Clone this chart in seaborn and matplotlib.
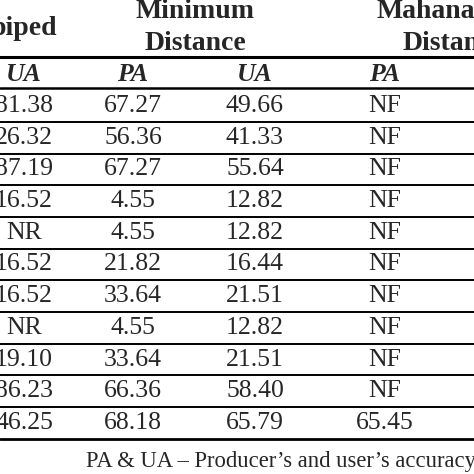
import matplotlib
matplotlib.use("Agg")
import matplotlib.pyplot as plt
import seaborn as sns

sns.set_theme(style="white")
plt.rcParams['font.family'] = ['Liberation Serif', 'DejaVu Serif']

col_pp_ua = ["81.38", "26.32", "87.19", "16.52", "NR", "16.52", "16.52", "NR", "19.10", "86.23", "46.25"]
col_md_pa = ["67.27", "56.36", "67.27", "4.55", "4.55", "21.82", "33.64", "4.55", "33.64", "66.36", "68.18"]
col_md_ua = ["49.66", "41.33", "55.64", "12.82", "12.82", "16.44", "21.51", "12.82", "21.51", "58.40", "65.79"]
col_mh_pa = ["NF"] * 10 + ["65.45"]
sub_headers = ["UA", "PA", "UA", "PA"]
footer = "PA & UA \u2013 Producer\u2019s and user\u2019s accuracy"

fig = plt.figure(figsize=(4.74, 4.74), dpi=100)
ax = fig.add_axes([0, 0, 1, 1])
ax.set_xlim(0, 474)
ax.set_ylim(474, 0)
ax.axis("off")

xs = [24, 133, 255, 385]
fs = 18.5
hs = 20
# headers
ax.text(57, 28, "piped", ha="right", va="center", fontsize=hs, fontweight="bold")
ax.text(195, 11, "Minimum", ha="center", va="center", fontsize=hs, fontweight="bold")
ax.text(195, 43, "Distance", ha="center", va="center", fontsize=hs, fontweight="bold")
ax.text(377, 11, "Mahanal", ha="left", va="center", fontsize=hs, fontweight="bold")
ax.text(403, 43, "Distance", ha="left", va="center", fontsize=hs, fontweight="bold")
for x, h in zip(xs, sub_headers):
    ax.text(x, 74, h, ha="center", va="center", fontsize=fs, fontweight="bold", style="italic")

cols = [col_pp_ua, col_md_pa, col_md_ua, col_mh_pa]
y0, dy = 106, 31.7
for x, col in zip(xs, cols):
    for i, v in enumerate(col):
        ax.text(x, y0 + i * dy, v, ha="center", va="center", fontsize=fs)

ax.axhline(57, color="black", lw=2.2)
ax.axhline(88, color="black", lw=1.8)
for i in range(1, 11):
    ax.axhline(y0 + (i - 0.5) * dy, color="black", lw=1.4)
ax.axhline(439, color="black", lw=2.0)

ax.text(86, 461, footer, ha="left", va="center", fontsize=16.3)

fig.savefig("out.png", dpi=100)
